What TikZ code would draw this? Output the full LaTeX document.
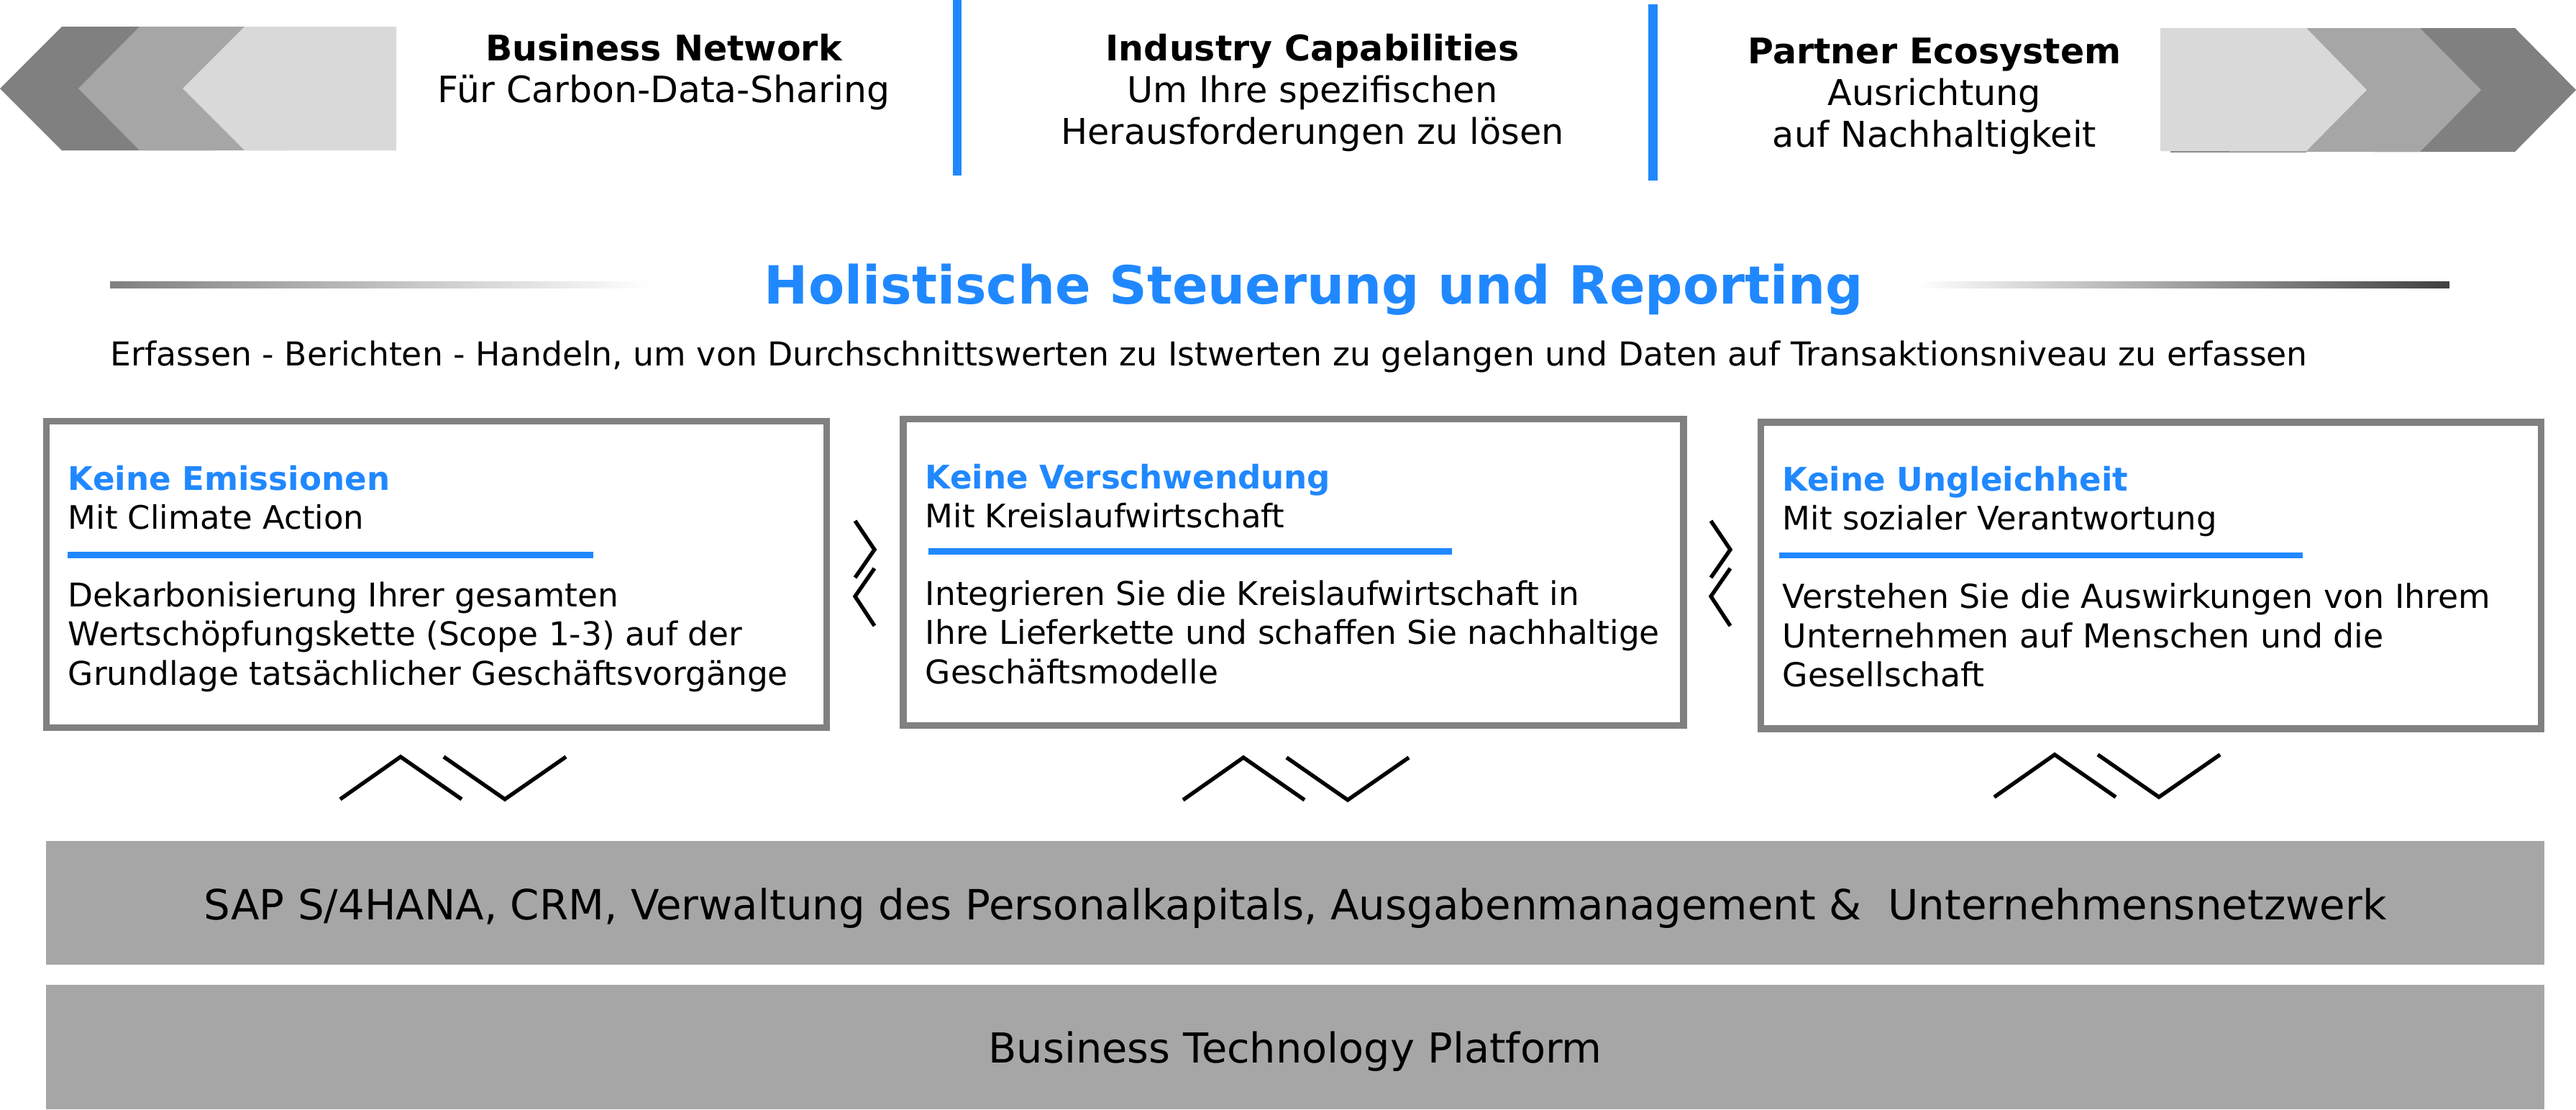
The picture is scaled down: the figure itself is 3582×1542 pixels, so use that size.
\documentclass[tikz,border=0pt]{standalone}
\usepackage{fontspec}
\setmainfont{DejaVu Sans}
\definecolor{sapblue}{HTML}{2088FF}
\definecolor{gdark}{HTML}{808080}
\definecolor{gmid}{HTML}{A6A6A6}
\definecolor{glight}{HTML}{D9D9D9}
\newcommand\bodyfont{\fontsize{11.24pt}{13.6pt}\selectfont}
\newcommand\headfont{\fontsize{12.63pt}{14.5pt}\selectfont}
\newcommand\headfontb{\fontsize{12.34pt}{14.5pt}\selectfont}
\newcommand\tophead[1]{{\fontsize{12.26pt}{14.5pt}\selectfont\bfseries #1}}
\newcommand\boxhead[1]{{\fontsize{11.29pt}{13.6pt}\selectfont\bfseries\color{sapblue}#1}}
\tikzset{
  px/.style={x=0.25pt,y=-0.25pt},
  toplabel/.style={anchor=north,align=center,inner sep=0pt,font=\headfont},
  textblock/.style={anchor=north west,align=left,inner sep=0pt,font=\bodyfont},
  framebox/.style={draw=gdark,line width=2.3pt,fill=white,inner sep=0pt,minimum width=271.25pt,minimum height=106.5pt},
  bar/.style={fill=gmid,inner sep=0pt,minimum width=868.5pt,minimum height=43pt},
  chev/.style={draw=black,line width=1.35pt,miter limit=10},
  blueline/.style={fill=sapblue},
}
\begin{document}
\begin{tikzpicture}[px]
\useasboundingbox (0,0) rectangle (3582,1542);
% left chevrons
\fill[gdark] (0,123) -- (86,37) -- (300,37) -- (300,209) -- (86,209) -- cycle;
\fill[gmid] (109,123) -- (194,37) -- (400,37) -- (400,209) -- (194,209) -- cycle;
\fill[glight] (254,123) -- (340,37) -- (551,37) -- (551,209) -- (340,209) -- cycle;
% right chevrons
\fill[gmid!80!black] (3018,205) rectangle (3207,212);
\fill[gdark] (3300,39) -- (3497,39) -- (3582,125) -- (3497,211) -- (3300,211) -- cycle;
\fill[gmid] (3100,39) -- (3365,39) -- (3450,125) -- (3365,211) -- (3100,211) -- cycle;
\fill[glight] (3004,39) -- (3207,39) -- (3291,125) -- (3207,210) -- (3004,210) -- cycle;
% blue dividers
\fill[blueline] (1325,0) rectangle (1337,244);
\fill[blueline] (2292,6) rectangle (2305,251);
% top labels
\node[toplabel] (tl1) at (923,46) {\tophead{Business Network}\\Für Carbon-Data-Sharing};
\node[toplabel,font=\headfontb] (tl2) at (1825,46) {\tophead{Industry Capabilities}\\Um Ihre spezifischen\\Herausforderungen zu lösen};
\node[toplabel,font=\headfontb] (tl3) at (2690,52) {\tophead{Partner Ecosystem}\\Ausrichtung\\auf Nachhaltigkeit};
% title
\node[inner sep=0pt,anchor=base,text=sapblue,font=\fontsize{18.3pt}{21pt}\selectfont\bfseries] (title) at (1827,422) {Holistische Steuerung und Reporting};
\fill[left color=gdark,right color=white] (153,391) rectangle (903,400);
\fill[left color=white,right color=black!75] (2666,391) rectangle (3406,400);
\node[inner sep=0pt,anchor=base west,font=\fontsize{11.43pt}{13.6pt}\selectfont] (sub) at (153,508) {Erfassen - Berichten - Handeln, um von Durchschnittswerten zu Istwerten zu gelangen und Daten auf Transaktionsniveau zu erfassen};
% boxes
\node[framebox] (b1) at (607,798.5) {};
\node[framebox] (b2) at (1798.5,795.5) {};
\node[framebox] (b3) at (2991,800) {};
% box 1
\node[textblock] (h1) at (94,646) {\boxhead{Keine Emissionen}\\Mit Climate Action};
\fill[blueline] (94,767) rectangle (825,776);
\node[textblock,font=\fontsize{11.36pt}{13.6pt}\selectfont] (t1) at (94,808) {Dekarbonisierung Ihrer gesamten\\Wertschöpfungskette (Scope 1-3) auf der\\Grundlage tatsächlicher Geschäftsvorgänge};
% box 2
\node[textblock] (h2) at (1286,644) {\boxhead{Keine Verschwendung}\\Mit Kreislaufwirtschaft};
\fill[blueline] (1291,762) rectangle (2019,771);
\node[textblock,font=\fontsize{11.36pt}{13.6pt}\selectfont] (t2) at (1286,806) {Integrieren Sie die Kreislaufwirtschaft in\\Ihre Lieferkette und schaffen Sie nachhaltige\\Geschäftsmodelle};
% box 3
\node[textblock] (h3) at (2478,647) {\boxhead{Keine Ungleichheit}\\Mit sozialer Verantwortung};
\fill[blueline] (2474,768) rectangle (3202,776);
\node[textblock,font=\fontsize{11.46pt}{13.6pt}\selectfont] (t3) at (2478,810) {Verstehen Sie die Auswirkungen von Ihrem\\Unternehmen auf Menschen und die\\Gesellschaft};
% side chevrons
\draw[chev] (1189,724) -- (1216,764) -- (1189,803);
\draw[chev] (1216,790) -- (1189,829) -- (1216,870);
\draw[chev] (2379,724) -- (2406,764) -- (2379,803);
\draw[chev] (2406,790) -- (2379,829) -- (2406,870);
% under chevrons
\foreach \dx/\dy in {0/0,1172/1,2300/-3}{
  \draw[chev] (473+\dx,1111+\dy) -- (557+\dx,1052+\dy) -- (642+\dx,1111+\dy);
  \draw[chev] (617+\dx,1052+\dy) -- (702+\dx,1111+\dy) -- (787+\dx,1052+\dy);
}
% bars
\node[bar,text height=14pt,text depth=2.5pt,font=\fontsize{14.46pt}{16pt}\selectfont] (bar1) at (1801,1255) {SAP S/4HANA, CRM, Verwaltung des Personalkapitals, Ausgabenmanagement \&\ \ Unternehmensnetzwerk};
\node[bar,text height=14pt,text depth=3.25pt,minimum height=43.25pt,font=\fontsize{14.35pt}{16pt}\selectfont] (bar2) at (1801,1455.5) {Business Technology Platform};
\end{tikzpicture}
\end{document}
